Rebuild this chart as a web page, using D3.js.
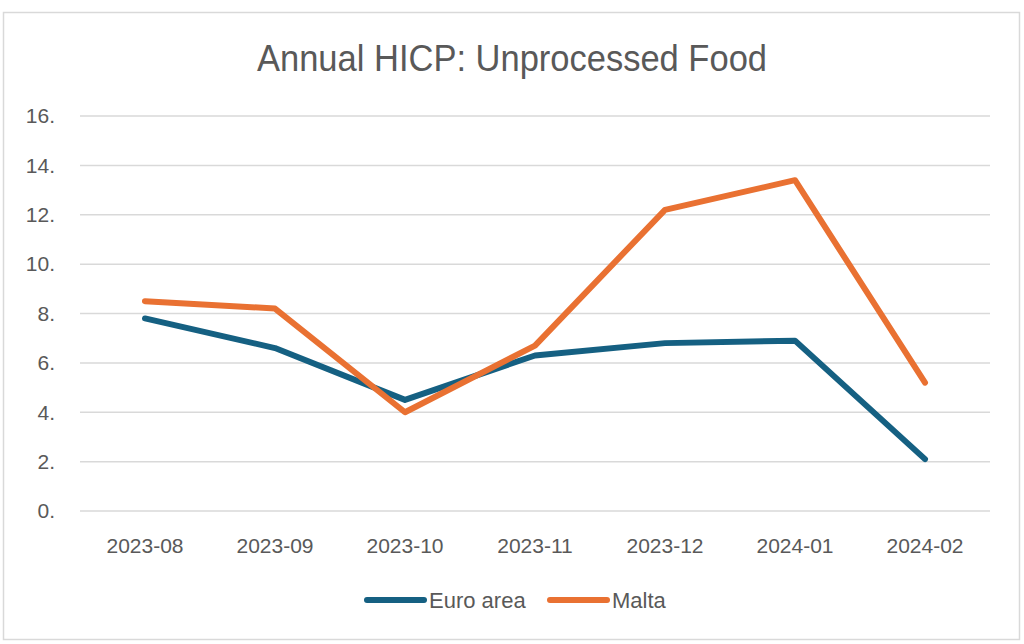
<!DOCTYPE html>
<meta charset="utf-8">
<script src="https://d3js.org/d3.v7.min.js"></script>
<style>
  body { margin: 0; background: #fff; }
  text { fill: #595959; font-family: "Liberation Sans", Arial, sans-serif; }
</style>
<div id="chart"></div>
<script>
// data
var months = ["2023-08", "2023-09", "2023-10", "2023-11", "2023-12", "2024-01", "2024-02"];
var euroArea = [7.8, 6.6, 4.5, 6.3, 6.8, 6.9, 2.1];
var malta = [8.5, 8.2, 4.0, 6.7, 12.2, 13.4, 5.2];
var yTicks = [0, 2, 4, 6, 8, 10, 12, 14, 16];

var W = 1024, H = 644;
var svg = d3.select("#chart").append("svg")
    .attr("width", W).attr("height", H);

// chart frame
svg.append("rect")
    .attr("x", 3.5).attr("y", 12.5)
    .attr("width", 1016).attr("height", 627)
    .attr("fill", "#fff").attr("stroke", "#d9d9d9").attr("stroke-width", 1.5);

svg.append("text")
    .attr("x", 512).attr("y", 71)
    .attr("text-anchor", "middle")
    .attr("textLength", 510)
    .attr("lengthAdjust", "spacingAndGlyphs")
    .style("font-size", "37px")
    .text("Annual HICP: Unprocessed Food");

var x = d3.scaleBand().domain(months).range([80, 990]);
var y = d3.scaleLinear().domain([0, 16]).range([511, 116]);

// gridlines
svg.append("g").selectAll("line")
  .data(yTicks).enter().append("line")
    .attr("x1", 80).attr("x2", 990)
    .attr("y1", function(d) { return y(d); })
    .attr("y2", function(d) { return y(d); })
    .attr("stroke", "#d9d9d9").attr("stroke-width", 1.5);

// y labels
svg.append("g").selectAll("text")
  .data(yTicks).enter().append("text")
    .attr("x", 55)
    .attr("y", function(d) { return y(d); })
    .attr("dy", "0.35em")
    .attr("text-anchor", "end")
    .style("font-size", "21px")
    .text(function(d) { return d + "."; });

// x labels
svg.append("g").selectAll("text")
  .data(months).enter().append("text")
    .attr("x", function(d) { return x(d) + x.bandwidth() / 2; })
    .attr("y", 553)
    .attr("text-anchor", "middle")
    .style("font-size", "21px")
    .text(function(d) { return d; });

var line = d3.line()
    .x(function(d, i) { return x(months[i]) + x.bandwidth() / 2; })
    .y(function(d) { return y(d); });

var series = [
  { name: "Euro area", values: euroArea, color: "#156082" },
  { name: "Malta", values: malta, color: "#E97132" }
];

svg.append("g").selectAll("path")
  .data(series).enter().append("path")
    .attr("d", function(d) { return line(d.values); })
    .attr("fill", "none")
    .attr("stroke", function(d) { return d.color; })
    .attr("stroke-width", 6)
    .attr("stroke-linecap", "round")
    .attr("stroke-linejoin", "round");

// legend
var legendX = [367, 550];
var lg = svg.append("g").selectAll("g")
  .data(series).enter().append("g")
    .attr("transform", function(d, i) { return "translate(" + legendX[i] + ",600)"; });
lg.append("line")
    .attr("x1", 0).attr("x2", 57)
    .attr("stroke", function(d) { return d.color; })
    .attr("stroke-width", 6)
    .attr("stroke-linecap", "round");
lg.append("text")
    .attr("x", 62).attr("dy", "0.35em")
    .style("font-size", "22px")
    .text(function(d) { return d.name; });
</script>
